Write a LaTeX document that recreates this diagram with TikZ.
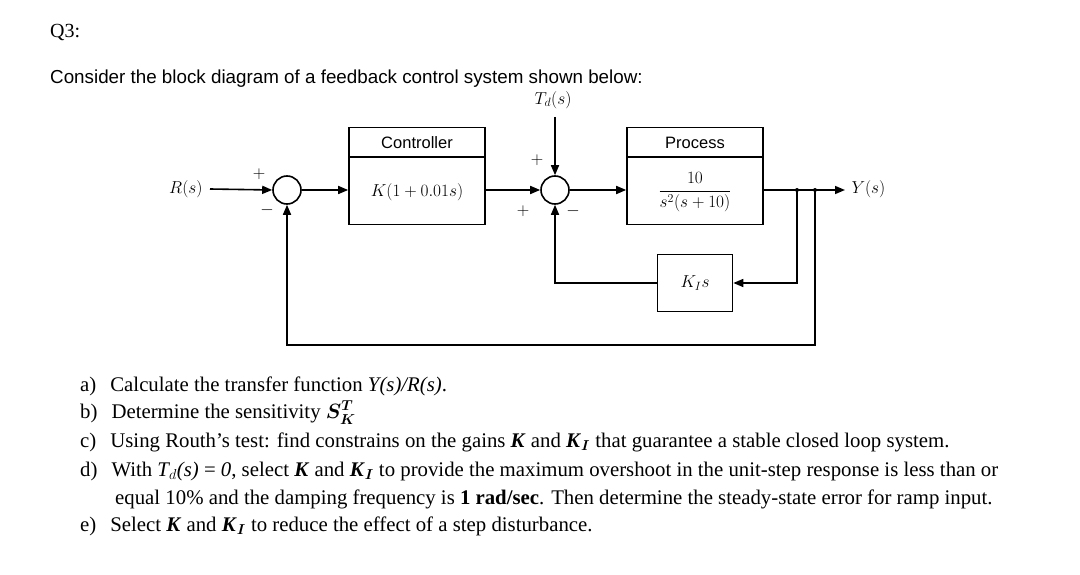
\documentclass[tikz,border=0pt]{standalone}
\usepackage{amsmath}
\usepackage{fontspec}
\setmainfont{Liberation Serif}
\newfontfamily\dsans{Liberation Sans}
\usetikzlibrary{arrows.meta}
\begin{document}
\begin{tikzpicture}[x=1pt,y=-1pt,
  blk/.style={draw,line width=1.6pt,inner sep=0pt},
  sumj/.style={draw,circle,line width=1.6pt,minimum size=28pt,inner sep=0pt},
  sig/.style={line width=1.6pt,-{Triangle[length=10pt,width=8pt]}},
  wire/.style={line width=1.6pt},
  lbl/.style={font=\dsans\fontsize{16.5}{19}\selectfont},
  txt/.style={anchor=base west,inner sep=0pt,font=\fontsize{20.8}{24}\selectfont}]
\useasboundingbox (0,0) rectangle (1080,575);
% header
\node[txt,font=\fontsize{20}{24}\selectfont] (q) at (50,38) {Q3:};
\node[txt,font=\dsans\fontsize{18.8}{22}\selectfont] (intro) at (50,84) {Consider the block diagram of a feedback control system shown below:};
% blocks
\node[blk,minimum width=136pt,minimum height=97pt] (ctrl) at (417,176) {};
\draw[wire] (349,157) -- (485,157);
\node[lbl] (ctrlt) at (417,143) {Controller};
\node[lbl] (ctrlf) at (417,192) {$K(1+0.01s)$};
\node[blk,minimum width=136pt,minimum height=97pt] (proc) at (695,176) {};
\draw[wire] (627,157) -- (763,157);
\node[lbl] (proct) at (695,143) {Process};
\node[lbl] (procf) at (695,192) {$\dfrac{10}{s^2(s+10)}$};
\node[blk,lbl,minimum width=75pt,minimum height=57pt] (ki) at (695,283) {$K_I s$};
\node[sumj] (s1) at (287,190) {};
\node[sumj] (s2) at (555,190) {};
% signals
\node[lbl,anchor=east] (r) at (206,189) {$R(s)$};
\node[lbl] (td) at (553,100) {$T_d(s)$};
\node[lbl,anchor=west] (y) at (848,189) {$Y(s)$};
\coordinate (td0) at (555,117);
\coordinate (b1) at (797,190);
\coordinate (b2) at (815,190);
\coordinate (yend) at (845,190);
\coordinate (low) at (815,345);
\draw[sig] (r.east) ++(4,0) -- (s1.west);
\draw[sig] (s1) -- (ctrl.west |- s1);
\draw[sig] (ctrl.east |- s2) -- (s2.west);
\draw[sig] (td0) -- (s2.north);
\draw[sig] (s2) -- (proc.west |- s2);
\draw[sig] (proc.east |- s2) -- (yend);
\draw[sig] (b1) |- (ki.east);
\draw[sig] (ki.west) -| (s2.south);
\draw[sig] (b2) -- (low) -| (s1.south);
\fill (b1) circle (2pt) (b2) circle (2pt);
% signs
\node[lbl] (p1) at (259,174) {$+$};
\node[lbl] (m1) at (267,210) {$-$};
\node[lbl] (p2) at (537,160) {$+$};
\node[lbl] (p3) at (523,211) {$+$};
\node[lbl] (m2) at (573,211) {$-$};
% questions
\node[txt] (qa) at (80,391) {a)\hspace{14pt}Calculate the transfer function \textit{Y(s)/R(s)}.};
\node[txt] (qb) at (80,418) {b)\hspace{14pt}Determine the sensitivity $\boldsymbol{S_K^T}$};
\node[txt] (qc) at (80,447) {c)\hspace{14pt}Using Routh's test: find constrains on the gains \textit{\textbf{K}} and \textit{\textbf{K}}$_{\boldsymbol{I}}$ that guarantee a stable closed loop system.};
\node[txt] (qd) at (80,476) {d)\hspace{14pt}With \textit{T$_d$(s)} = \textit{0}, select \textit{\textbf{K}} and \textit{\textbf{K}}$_{\boldsymbol{I}}$ to provide the maximum overshoot in the unit-step response is less than or};
\node[txt] (qd2) at (115,504) {equal 10\% and the damping frequency is \textbf{1 rad/sec}. Then determine the steady-state error for ramp input.};
\node[txt] (qe) at (80,531) {e)\hspace{14pt}Select \textit{\textbf{K}} and \textit{\textbf{K}}$_{\boldsymbol{I}}$ to reduce the effect of a step disturbance.};
\end{tikzpicture}
\end{document}
